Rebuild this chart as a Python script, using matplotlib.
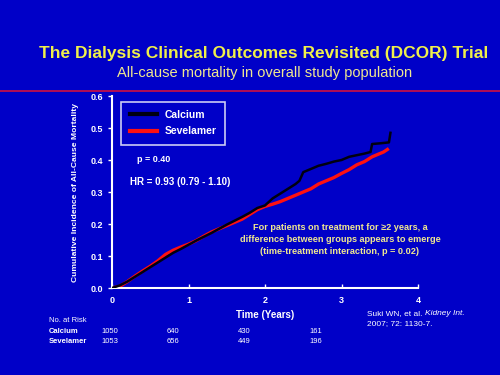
import matplotlib
matplotlib.use("Agg")
import matplotlib.pyplot as plt

# ---- data ----
calcium_t = [0, 0.1, 0.2, 0.3, 0.4, 0.5, 0.6, 0.7, 0.8, 0.9, 1.0, 1.1, 1.2, 1.3, 1.4, 1.5,
             1.6, 1.7, 1.8, 1.9, 2.0, 2.1, 2.2, 2.3, 2.4, 2.45, 2.5, 2.6, 2.7, 2.8, 2.9,
             3.0, 3.1, 3.2, 3.3, 3.38, 3.4, 3.5, 3.62, 3.64]
calcium_y = [0, 0.008, 0.02, 0.035, 0.05, 0.065, 0.08, 0.095, 0.11, 0.122, 0.135, 0.148,
             0.16, 0.172, 0.185, 0.198, 0.21, 0.222, 0.235, 0.25, 0.258, 0.28, 0.295, 0.31,
             0.325, 0.335, 0.362, 0.372, 0.382, 0.388, 0.395, 0.40, 0.41, 0.415, 0.42, 0.425,
             0.45, 0.452, 0.455, 0.485]
sevelamer_t = [0, 0.1, 0.2, 0.3, 0.4, 0.5, 0.6, 0.7, 0.8, 0.9, 1.0, 1.1, 1.2, 1.3, 1.4, 1.5,
               1.6, 1.7, 1.8, 1.9, 2.0, 2.1, 2.2, 2.3, 2.4, 2.5, 2.6, 2.7, 2.8, 2.9, 3.0,
               3.1, 3.2, 3.3, 3.4, 3.5, 3.55, 3.6]
sevelamer_y = [0, 0.005, 0.02, 0.037, 0.053, 0.068, 0.085, 0.105, 0.118, 0.128, 0.137, 0.148,
               0.162, 0.175, 0.185, 0.195, 0.205, 0.215, 0.23, 0.245, 0.255, 0.262, 0.27,
               0.28, 0.29, 0.30, 0.31, 0.325, 0.335, 0.345, 0.358, 0.37, 0.385, 0.395, 0.41,
               0.42, 0.425, 0.433]
x_ticks = [0, 1, 2, 3, 4]
y_ticks = [0.0, 0.1, 0.2, 0.3, 0.4, 0.5, 0.6]
risk_groups = ["Calcium", "Sevelamer"]
risk_calcium = [1050, 640, 430, 161]
risk_sevelamer = [1053, 656, 449, 196]

BG = "#0000c8"
YEL = "#f0f04a"
LYEL = "#f0e890"
plt.rcParams['font.family'] = ['Liberation Sans', 'DejaVu Sans']

fig = plt.figure(figsize=(5, 3.75), dpi=100, facecolor=BG)
ax = fig.add_axes([0.224, 0.232, 0.612, 0.512], facecolor=BG)

ax.plot(sevelamer_t, sevelamer_y, color="#ff1010", lw=2.4, label="Sevelamer", zorder=2)
ax.plot(calcium_t, calcium_y, color="#000010", lw=1.8, label="Calcium", zorder=3)

ax.set_xlim(0, 4)
ax.set_ylim(0, 0.6)
ax.set_xticks(x_ticks)
ax.set_xticklabels([str(v) for v in x_ticks])
ax.set_yticks(y_ticks)
ax.set_yticklabels([f"{v:.1f}" for v in y_ticks])
for s in ["top", "right"]:
    ax.spines[s].set_visible(False)
for s in ["left", "bottom"]:
    ax.spines[s].set_color("white")
    ax.spines[s].set_linewidth(1.5)
ax.tick_params(colors="white", labelsize=6.5, length=3, width=1)
ax.tick_params(axis="x", direction="in", pad=6)
for lab in ax.get_xticklabels() + ax.get_yticklabels():
    lab.set_fontweight("bold")
ax.set_xlabel("Time (Years)", color="white", fontsize=7, fontweight="bold", labelpad=3)
ax.set_ylabel("Cumulative Incidence of All-Cause Mortality", color="white",
              fontsize=6.1, fontweight="bold", labelpad=8)

h, l = ax.get_legend_handles_labels()
leg = ax.legend([h[1], h[0]], [l[1], l[0]], loc="upper left", bbox_to_anchor=(0.03, 0.97),
                frameon=True, fancybox=False, fontsize=7.5, handlelength=2.6,
                borderpad=0.8, labelspacing=0.6, borderaxespad=0)
leg.get_frame().set_facecolor(BG)
leg.get_frame().set_edgecolor("white")
leg.get_frame().set_linewidth(1.2)
for t in leg.get_texts():
    t.set_color("white")
    t.set_fontweight("bold")
for ln in leg.get_lines():
    ln.set_linewidth(3)

ax.text(0.33, 0.4, "p = 0.40", color="white", fontsize=6.5, fontweight="bold", va="center")
ax.text(0.24, 0.33, "HR = 0.93 (0.79 - 1.10)", color="white", fontsize=7, fontweight="bold",
        va="center")
ax.text(2.98, 0.152, "For patients on treatment for \u22652 years, a\n"
        "difference between groups appears to emerge\n(time-treatment interaction, p = 0.02)",
        color=LYEL, fontsize=6.6, fontweight="bold", ha="center", va="center", linespacing=1.45)

fig.text(0.527, 0.858, "The Dialysis Clinical Outcomes Revisited (DCOR) Trial", color=YEL,
         fontsize=12.5, fontweight="bold", ha="center", va="center")
fig.text(0.53, 0.805, "All-cause mortality in overall study population", color=LYEL,
         fontsize=10.5, ha="center", va="center")
fig.add_artist(plt.Line2D([0, 1], [0.757, 0.757], color="#d01040", lw=1.2,
                          transform=fig.transFigure))

# risk table
fig.text(0.098, 0.144, "No. at Risk", color="white", fontsize=5.5, va="center")
cols = [0.202, 0.334, 0.476, 0.618]
for i, (g, vals) in enumerate(zip(risk_groups, [risk_calcium, risk_sevelamer])):
    yy = 0.117 - i * 0.027
    fig.text(0.098, yy, g, color="white", fontsize=5.5, fontweight="bold", va="center")
    for c, v in zip(cols, vals):
        fig.text(c, yy, str(v), color="white", fontsize=5.5, va="center")

t1 = fig.text(0.734, 0.163, "Suki WN, et al. ", color="white", fontsize=6, va="center")
fig.canvas.draw()
bb = t1.get_window_extent(fig.canvas.get_renderer())
x_end = bb.x1 / fig.bbox.width
fig.text(x_end, 0.163, "Kidney Int.", color="white", fontsize=6, va="center", style="italic")
fig.text(0.734, 0.136, "2007; 72: 1130-7.", color="white", fontsize=6, va="center")

fig.savefig("out.png", dpi=100, facecolor=BG)
